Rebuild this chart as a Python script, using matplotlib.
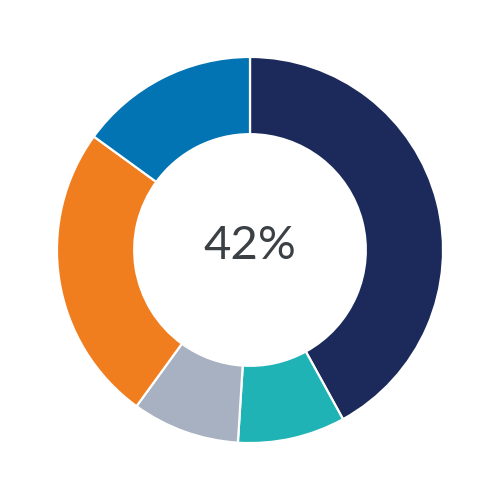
import matplotlib
matplotlib.use("Agg")
import matplotlib.pyplot as plt

# Anteile der Segmente (im Uhrzeigersinn ab 12 Uhr)
labels = ["Navy", "Teal", "Grau", "Orange", "Blau"]
werte = [42, 9, 9, 25, 15]
farben = ["#1b2a5a", "#1fb3b5", "#a8b1c1", "#f07e1f", "#0274b3"]
mitte_text = "42%"

fig = plt.figure(figsize=(5, 5), dpi=100)
ax = fig.add_axes([0, 0, 1, 1])

ax.pie(werte, colors=farben, startangle=90, counterclock=False,
       radius=1.0,
       wedgeprops=dict(width=0.4, edgecolor="white", linewidth=1.6))

ax.text(0, 0.02, mitte_text, ha="center", va="center",
        fontsize=34, color="#3b4045", family=["Lato", "DejaVu Sans"])

ax.set_xlim(-1.295, 1.295)
ax.set_ylim(-1.295, 1.295)
ax.set_aspect("equal")
ax.axis("off")

fig.savefig("out.png", dpi=100, facecolor="white")
